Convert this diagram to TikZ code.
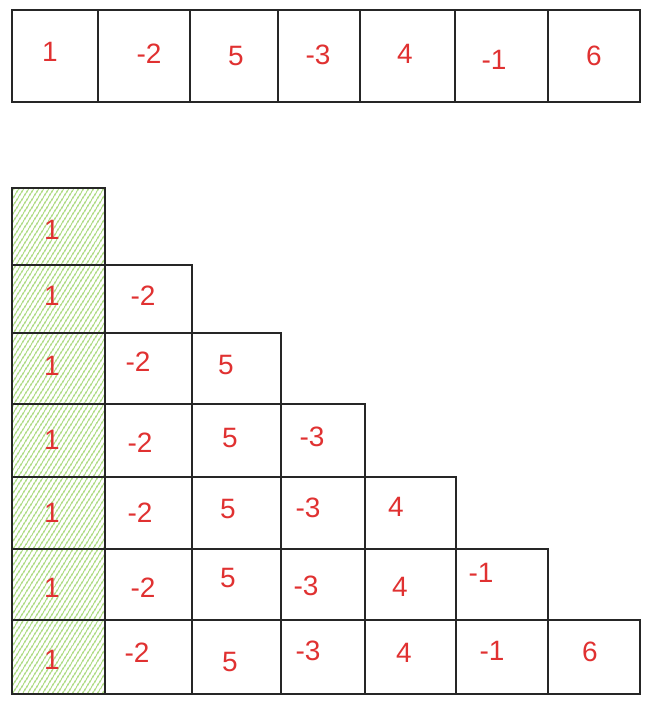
\documentclass[tikz,border=0pt]{standalone}
\usepackage{fontspec}
\setmainfont{Liberation Sans}
\usetikzlibrary{patterns.meta}
\definecolor{numred}{RGB}{224,49,49}
\definecolor{hatchgreen}{RGB}{140,204,80}
\tikzset{num/.style={text=numred,font=\fontsize{28}{32}\selectfont},
  cell/.style={draw=black!85,line width=1.6pt},
  hatched/.style={pattern={Lines[angle=58,distance=4pt,line width=1.3pt]},pattern color=hatchgreen}}

\begin{document}
\begin{tikzpicture}[x=1pt,y=-1pt]
\useasboundingbox (0,0) rectangle (663,706);
% input array
\draw [cell] (12,10) rectangle (640,102);
\draw [cell] (98,10)--(98,102);
\draw [cell] (190,10)--(190,102);
\draw [cell] (278,10)--(278,102);
\draw [cell] (360,10)--(360,102);
\draw [cell] (455,10)--(455,102);
\draw [cell] (548,10)--(548,102);
\node [num] (t1) at (50,52) {1};
\node [num] (t2) at (149,54) {-2};
\node [num] (t3) at (236,56) {5};
\node [num] (t4) at (318,55) {-3};
\node [num] (t5) at (405,54) {4};
\node [num] (t6) at (494,60) {-1};
\node [num] (t7) at (594,56) {6};
% first column, hatched
\fill [hatched] (12,188) rectangle (105,694);
\draw [cell] (12,188) rectangle (105,694);
\draw [cell] (12,265)--(105,265);
\draw [cell] (12,333)--(105,333);
\draw [cell] (12,404)--(105,404);
\draw [cell] (12,477)--(105,477);
\draw [cell] (12,549)--(105,549);
\draw [cell] (12,620)--(105,620);
% staircase
\draw [cell] (105,265) rectangle (192,333);
\draw [cell] (105,333) rectangle (281,404);
\draw [cell] (192,333)--(192,404);
\draw [cell] (105,404) rectangle (365,477);
\draw [cell] (192,404)--(192,477);
\draw [cell] (281,404)--(281,477);
\draw [cell] (105,477) rectangle (456,549);
\draw [cell] (192,477)--(192,549);
\draw [cell] (281,477)--(281,549);
\draw [cell] (365,477)--(365,549);
\draw [cell] (105,549) rectangle (548,620);
\draw [cell] (192,549)--(192,620);
\draw [cell] (281,549)--(281,620);
\draw [cell] (365,549)--(365,620);
\draw [cell] (456,549)--(456,620);
\draw [cell] (105,620) rectangle (640,694);
\draw [cell] (192,620)--(192,694);
\draw [cell] (281,620)--(281,694);
\draw [cell] (365,620)--(365,694);
\draw [cell] (456,620)--(456,694);
\draw [cell] (548,620)--(548,694);
% labels, row by row
\node [num] (a1) at (52,230) {1};
\node [num] (b1) at (52,296) {1};
\node [num] (b2) at (143,296) {-2};
\node [num] (c1) at (52,366) {1};
\node [num] (c2) at (138,362) {-2};
\node [num] (c3) at (226,365) {5};
\node [num] (d1) at (52,440) {1};
\node [num] (d2) at (140,443) {-2};
\node [num] (d3) at (230,438) {5};
\node [num] (d4) at (312,437) {-3};
\node [num] (e1) at (52,513) {1};
\node [num] (e2) at (140,513) {-2};
\node [num] (e3) at (228,509) {5};
\node [num] (e4) at (308,508) {-3};
\node [num] (e5) at (396,507) {4};
\node [num] (f1) at (52,588) {1};
\node [num] (f2) at (143,588) {-2};
\node [num] (f3) at (228,578) {5};
\node [num] (f4) at (306,586) {-3};
\node [num] (f5) at (400,587) {4};
\node [num] (f6) at (481,573) {-1};
\node [num] (g1) at (52,660) {1};
\node [num] (g2) at (137,653) {-2};
\node [num] (g3) at (230,662) {5};
\node [num] (g4) at (308,651) {-3};
\node [num] (g5) at (404,653) {4};
\node [num] (g6) at (492,651) {-1};
\node [num] (g7) at (590,652) {6};
\end{tikzpicture}
\end{document}
